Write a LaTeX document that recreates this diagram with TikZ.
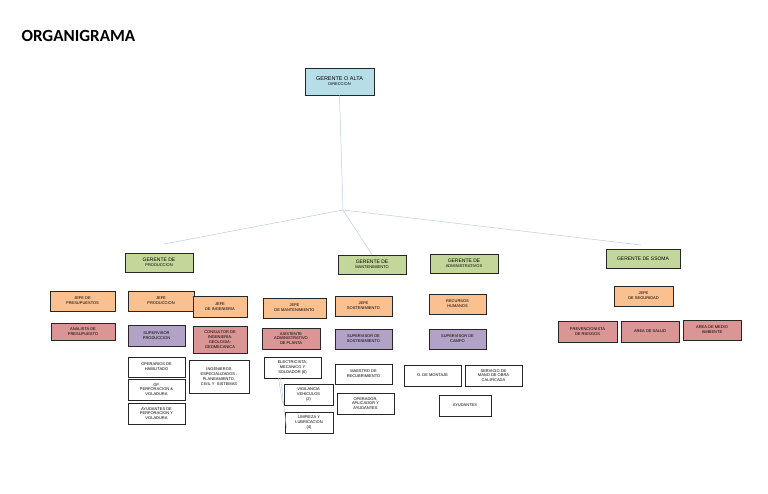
\documentclass[tikz,border=0pt]{standalone}
\usepackage{fontspec}
\setmainfont{Liberation Sans}
\newfontfamily\titlefont{Carlito}
\definecolor{cblue}{HTML}{B7DEE8}
\definecolor{cgreen}{HTML}{C4D79B}
\definecolor{corange}{HTML}{FAC090}
\definecolor{cred}{HTML}{D99694}
\definecolor{cpurple}{HTML}{B3A2C7}
\definecolor{cline}{HTML}{B9CDE5}
\begin{document}
\begin{tikzpicture}[x=1pt,y=-1pt,
 bx/.style={draw=black!85,line width=0.9pt,align=center,inner sep=0pt,font=\fontsize{4}{4.8}\selectfont},
 lk/.style={draw=cline,line width=0.5pt}]
\useasboundingbox (0,0) rectangle (768,494);
\node[anchor=west,font=\titlefont\bfseries\fontsize{17}{17}\selectfont] (t) at (18,36) {ORGANIGRAMA};
\newcommand\bxx[7]{\node[bx,fill=#6,minimum width=#4pt,minimum height=#5pt] (#1) at (#2,#3) {#7};}
\bxx{g}{339.5}{81.5}{69}{27}{cblue}{\fontsize{5.5}{6.5}\selectfont GERENTE O ALTA\\ DIRECCION}
\bxx{gp}{159}{262.5}{68}{19}{cgreen}{\fontsize{5}{6}\selectfont GERENTE DE\\ PRODUCCION}
\bxx{gm}{372}{264.5}{68}{19}{cgreen}{\fontsize{5}{6}\selectfont GERENTE DE\\ MANTENIMIENTO}
\bxx{ga}{464}{263.5}{68}{19}{cgreen}{\fontsize{5}{6}\selectfont GERENTE DE\\ ADMINISTRATIVOS}
\bxx{gs}{643}{258.5}{74}{19}{cgreen}{\fontsize{5}{6}\selectfont GERENTE DE SSOMA}
\coordinate (hub) at (343,210);
\draw[lk] (g.south) -- (hub);
\draw[lk] (hub) -- (164,244);
\draw[lk] (hub) -- (gm.north);
\draw[lk] (hub) -- (641,245);
\bxx{jp}{82.5}{301}{65}{20}{corange}{JEFE DE\\ PRESUPUESTOS}
\bxx{jpr}{161}{301}{66}{20}{corange}{JEFE\\ PRODUCCION}
\bxx{ji}{220}{306.5}{54}{21}{corange}{JEFE\\ DE INGENIERIA}
\bxx{jm}{294.5}{308}{63}{20}{corange}{JEFE\\ DE MANTENIMIENTO}
\bxx{js}{363.5}{306}{57}{20}{corange}{JEFE\\ SOSTENIMIENTO}
\bxx{rh}{457.5}{304}{57}{20}{corange}{RECURSOS\\ HUMANOS}
\bxx{jse}{643.5}{296}{59}{20}{corange}{JEFE\\ DE SEGURIDAD}
\bxx{an}{83}{331.5}{64}{17}{cred}{ANALISTA DE\\ PRESUPUESTO}
\bxx{sp}{156.5}{335.5}{57}{21}{cpurple}{SUPERVISOR\\ PRODUCCION}
\bxx{co}{220}{339.5}{54}{27}{cred}{CONSULTOR DE\\ INGENIERIA:\\ GEOLOGIA-\\ GEOMECANICA}
\bxx{as}{291}{338.5}{58}{21}{cred}{ASISTENTE\\ ADMINISTRATIVO\\ DE PLANTA}
\bxx{ss}{363.5}{339}{57}{20}{cpurple}{SUPERVISOR DE\\ SOSTENIMIENTO}
\bxx{sc}{457.5}{339}{57}{20}{cpurple}{SUPERVISOR DE\\ CAMPO}
\bxx{pr}{587.5}{331.5}{59}{21}{cred}{PREVENCIONISTA\\ DE RIESGOS}
\bxx{sa}{650}{331.5}{58}{21}{cred}{AREA DE SALUD}
\bxx{ma}{712}{330}{58}{20}{cred}{AREA DE MEDIO\\ AMBIENTE}
\bxx{oh}{156.5}{367}{57}{20}{white}{OPERARIOS DE\\ HABILITADO}
\bxx{op}{156.5}{389.5}{57}{21}{white}{OP.\\ PERFORACION \&\\ VOLADURA}
\bxx{ay}{156.5}{413.5}{57}{21}{white}{AYUDANTES DE\\ PERFORACION Y\\ VOLADURA}
\bxx{ie}{219}{376.5}{60}{33}{white}{INGENIEROS\\ ESPECIALIZADOS :\\ PLANEAMIENTO,\\ CIVIL Y \ SISTEMAS}
\bxx{el}{292.5}{367.5}{57}{21}{white}{ELECTRICISTA,\\ MECANICO Y\\ SOLDADOR (6)}
\bxx{vi}{308.5}{394.5}{49}{21}{white}{VIGILANCIA\\ VEHICULOS\\ (2)}
\bxx{li}{309}{422.5}{48}{21}{white}{LIMPIEZA Y\\ LUBRICACION\\ (4)}
\bxx{mr}{363.5}{374}{57}{20}{white}{MAESTRO DE\\ RECUBRIMIENTO}
\bxx{oa}{365.5}{403.5}{57}{21}{white}{OPERADOR,\\ APLICADOR Y\\ AYUDANTES}
\bxx{om}{432.5}{375.5}{57}{21}{white}{O. DE MONTAJE}
\bxx{se}{493.5}{375.5}{57}{21}{white}{SERVICIO DE\\ MANO DE OBRA\\ CALIFICADA}
\bxx{ad}{465}{405.5}{52}{21}{white}{AYUDANTES}
\draw[lk] (el.south west)++(15,0) -- ++(4,25);
\draw[lk] (el.south west)++(17,0) -- ++(6,50);
\end{tikzpicture}
\end{document}
